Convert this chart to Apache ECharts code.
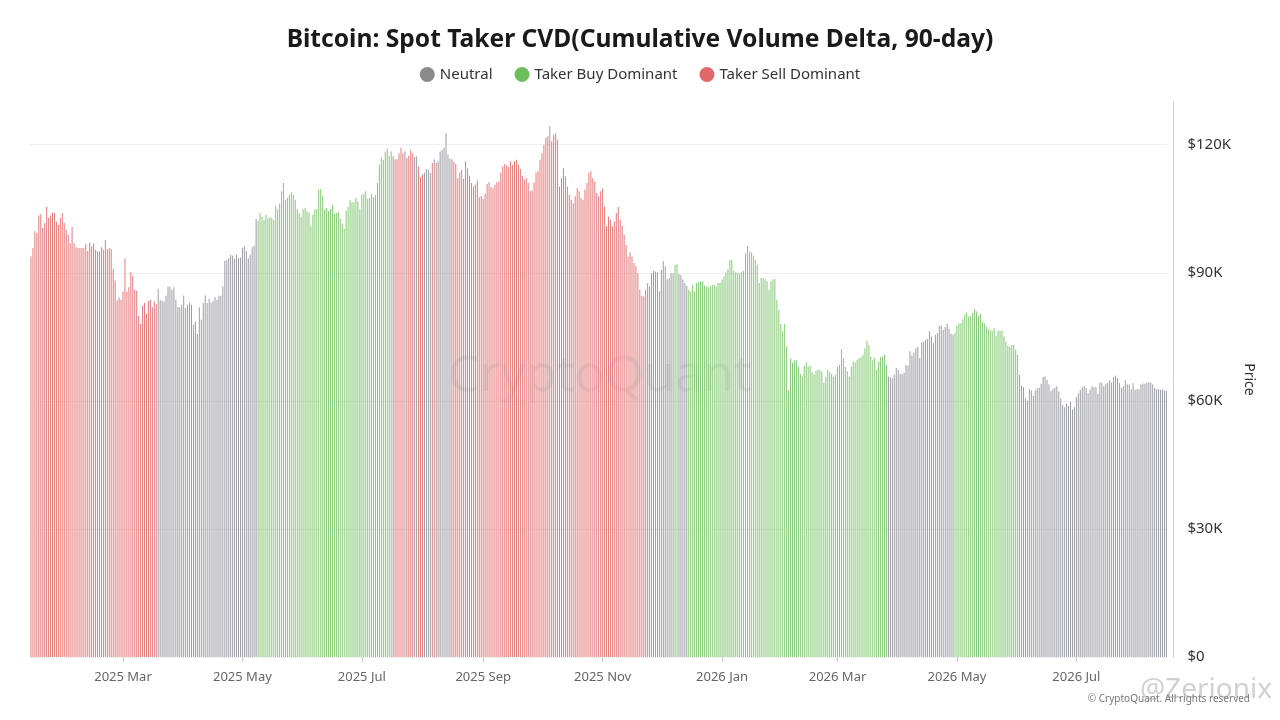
<!DOCTYPE html>
<html>
<head>
<meta charset="utf-8">
<title>Bitcoin: Spot Taker CVD</title>
<script src="https://cdn.jsdelivr.net/npm/echarts@6/dist/echarts.min.js"></script>
<style>
html,body{margin:0;padding:0;background:#fff;}
#chart{width:1280px;height:720px;}
</style>
</head>
<body>
<div id="chart"></div>
<script>
// daily BTC price in $K, one value per day starting at startDate
var startDate = [2025, 0, 13];

// Jan 13 - May 8 2025
var priceEarly2025 = [
    93.8, 95.8, 99.7, 99.3, 103.4, 103.7, 100.5, 101.6, 105.4, 102.8,
    103.4, 104.1, 104.0, 102.0, 101.2, 102.8, 104.0, 101.6, 100.1, 98.9,
    96.9, 100.7, 96.9, 96.0, 95.8, 95.8, 95.8, 95.8, 96.8, 95.1,
    97.1, 96.2, 96.9, 95.4, 95.0, 95.0, 96.0, 95.4, 97.7, 95.5,
    95.8, 95.5, 90.9, 88.2, 83.5, 84.2, 83.7, 85.6, 93.4, 85.6,
    86.6, 90.1, 89.3, 86.0, 85.8, 79.9, 78.0, 82.3, 82.9, 80.4,
    83.4, 83.7, 81.9, 83.3, 82.6,
    86.2, 83.7, 83.4, 83.3, 84.6, 86.8, 86.8, 86.0, 86.6, 83.7,
    81.9, 81.9, 82.5, 84.6, 81.7, 82.5, 83.0, 82.5, 77.8, 78.6,
    75.7, 81.9, 79.0, 82.9, 84.7, 82.9, 83.9, 83.0, 83.3, 84.3,
    83.7, 84.6, 84.6, 86.8, 92.8, 93.0, 93.4, 94.2, 94.0, 93.3,
    94.2, 93.4, 93.6, 95.8, 96.2, 95.1, 93.4, 94.2, 96.0, 96.3,
    102.6
];
// May 9 - Aug 15 2025
var priceMidYear = [
    102.2, 104.0, 103.2, 102.3, 103.6, 102.7, 103.0, 102.8, 102.3, 105.7,
    104.8, 106.2, 109.1, 111.0, 107.1, 107.5, 108.3, 108.8, 108.3, 107.1,
    104.9, 104.0, 103.2, 104.9, 105.2, 104.4, 104.0, 101.0, 103.6, 104.8,
    104.9, 109.5, 109.6, 108.0, 104.8, 105.2, 104.4, 104.9, 105.9, 103.8,
    104.0, 104.3, 102.6, 101.5, 100.3, 104.6, 105.4, 107.0, 106.5, 106.5,
    107.5, 106.7, 104.9, 108.3, 108.5, 109.1, 107.3, 107.5, 108.5, 107.7,
    108.3, 111.0, 115.3, 116.9, 116.5, 118.4, 119.1, 117.3, 118.4,
    117.3, 116.6, 116.6, 118.0, 119.2, 118.0, 118.4, 116.9, 117.4, 118.7,
    118.0, 117.1, 117.3, 114.9, 112.4, 113.0, 113.4, 114.3, 114.1, 113.4,
    115.7, 116.6, 115.7, 116.1, 118.4, 118.8, 119.2, 122.7, 117.7, 116.7
];
// Aug 16 - Nov 23 2025
var priceAutumn = [
    116.6, 116.0, 115.5, 112.2, 113.5, 114.1, 112.0, 116.1, 114.5, 112.7,
    111.0, 110.2, 110.6, 111.6, 107.7, 108.0, 107.3, 108.5, 110.8, 111.2,
    110.1, 109.8, 110.6, 111.2, 111.4, 113.4, 114.9, 115.5, 115.1, 114.8,
    116.1, 115.3, 116.1, 116.5, 115.3, 114.3, 112.7, 111.8, 112.2, 111.0,
    109.1, 109.3, 111.2, 113.5, 113.8, 116.5, 118.0, 120.0, 121.6, 122.0,
    124.3,
    120.8, 122.3, 122.7, 121.2, 110.2, 112.2, 114.5, 112.6, 110.2, 108.3,
    107.1, 106.3, 107.9, 109.8, 109.1, 107.5, 107.1, 109.5, 111.0, 113.4,
    113.8, 112.2, 111.4, 108.7, 107.9, 109.1, 109.8, 105.5, 100.9, 103.2,
    102.4, 100.9, 102.0, 104.0, 105.4, 102.4, 101.0, 98.9, 96.5, 93.8,
    94.8, 93.8, 92.3, 91.5, 89.9, 86.0, 84.6, 84.5, 86.0
];
// Nov 24 2025 - Mar 26 2026
var priceWinter = [
    87.6, 86.8, 89.9, 90.5, 90.3, 90.1, 85.6, 90.7, 92.7, 91.5,
    88.5, 88.8, 89.9, 89.9, 91.9, 92.0, 89.7, 89.5, 88.4, 87.6,
    86.9,
    86.0, 85.6, 87.2, 85.6, 87.6, 87.7, 88.0, 88.0, 87.0, 86.8,
    86.6, 86.8, 87.2, 87.2, 86.8, 87.6, 87.6, 88.4, 89.1, 90.1,
    90.9, 93.0, 93.0, 90.5, 90.1, 89.9, 89.8, 90.1, 90.5, 94.6,
    96.3, 95.0, 94.8, 94.0, 93.0, 91.9, 87.6, 88.8, 88.8, 88.5,
    88.0, 86.0, 88.0, 88.5, 88.5, 83.7, 81.3, 78.0, 76.3, 78.0,
    72.7, 62.4, 69.8, 69.0, 69.5, 69.5, 68.0, 66.3, 65.7, 68.2,
    69.0, 68.0, 68.2, 66.7, 66.1, 67.0, 67.3, 67.3, 66.9, 64.2, 65.7,
    67.3, 66.7, 66.3, 65.7, 66.1, 68.0, 68.4, 72.1, 70.0, 67.9,
    66.9, 65.7, 68.0, 69.2, 69.0, 69.6, 70.0, 70.2, 70.8, 72.3, 74.1,
    73.1, 70.4, 69.6, 70.0, 67.3, 69.2, 70.2, 70.4, 70.8, 68.4
];
// Mar 27 - Jun 1 2026
var priceSpring2026 = [
    65.7, 65.5, 65.3, 66.1, 67.7, 67.3, 66.3, 66.3, 66.6, 68.4,
    68.2, 71.6, 70.6, 71.3, 72.3, 72.6, 70.0, 73.7, 73.9, 74.3,
    74.5, 76.3, 75.1, 73.5, 75.5, 75.9, 77.6, 77.6, 76.6, 77.3,
    78.1, 76.8, 75.7, 75.5,
    75.9, 77.6, 78.1, 78.2, 79.1, 80.2, 80.7, 79.8, 79.8, 80.6,
    81.5, 80.9, 79.8, 80.4, 78.6, 78.2, 77.4, 76.8, 76.6, 76.3,
    77.0, 75.2, 76.5, 76.3, 76.5, 75.1, 73.9, 72.9, 72.7, 73.1,
    73.1, 72.0, 70.8
];
// Jun 2 - Aug 16 2026
var priceSummer2026 = [
    66.1, 63.5, 63.2, 60.6, 60.1, 62.7, 62.4, 61.2, 62.4, 63.0,
    63.0, 64.0, 65.6, 65.7, 64.9, 63.8, 62.3, 62.8, 63.0, 63.4,
    62.2, 60.6, 59.0, 58.5, 59.4, 58.8, 59.8, 58.0, 58.5, 60.9,
    61.8, 62.6, 63.2, 63.5, 63.0, 61.8, 62.6, 63.4, 63.2, 63.2,
    61.6, 64.3, 64.2, 63.4, 64.0, 64.2, 64.8, 64.3, 65.6, 65.9,
    65.3, 64.1, 63.0, 63.4, 64.8, 63.8, 63.8, 62.7, 64.1, 62.6,
    62.7, 62.7, 63.8, 64.0, 64.0, 64.3, 64.3, 64.3, 63.8, 63.0,
    62.7, 62.7, 62.6, 62.7, 62.4, 62.3
];

// taker regime, as consecutive runs of days
var runKind = ['sell','neutral','buy','neutral','sell','neutral','sell','neutral','sell','neutral',
               'sell','neutral','sell','neutral','sell','neutral','sell','neutral','buy','neutral',
               'buy','neutral','buy','neutral'];
var runLength = [65, 51, 69, 1, 5, 1, 4, 2, 3, 4,
                 1, 1, 1, 7, 50, 1, 49, 14, 2, 5,
                 102, 34, 33, 76];

var yTicks = [0, 30, 60, 90, 120];
var monthNames = ['Jan','Feb','Mar','Apr','May','Jun','Jul','Aug','Sep','Oct','Nov','Dec'];

var prices = [].concat(priceEarly2025, priceMidYear, priceAutumn, priceWinter, priceSpring2026, priceSummer2026);

var regime = [];
for (var r = 0; r < runKind.length; r++) {
    for (var k = 0; k < runLength[r]; k++) regime.push(runKind[r]);
}

var days = [];
var t0 = Date.UTC(startDate[0], startDate[1], startDate[2]);
for (var i = 0; i < prices.length; i++) {
    days.push(new Date(t0 + i * 86400000).toISOString().slice(0, 10));
}

function isLabelDay(idx, val) {
    var p = val.split('-');
    return p[2] === '01' && (+p[1]) % 2 === 1;
}

function seriesFor(kind) {
    return prices.map(function (v, i) { return regime[i] === kind ? v : '-'; });
}

var font = 'Noto Sans';
var chart = echarts.init(document.getElementById('chart'));

var option = {
    backgroundColor: '#fff',
    animation: false,
    textStyle: { fontFamily: font },
    title: {
        text: 'Bitcoin: Spot Taker CVD(Cumulative Volume Delta, 90-day)',
        left: 'center',
        top: 22,
        textStyle: { fontSize: 24.6, fontWeight: 'bold', color: '#1a1a1a', fontFamily: font }
    },
    legend: {
        top: 62,
        left: 'center',
        icon: 'circle',
        itemWidth: 15,
        itemHeight: 15,
        itemGap: 22,
        textStyle: { fontSize: 15, color: '#333', fontFamily: font },
        data: [
            { name: 'Neutral', itemStyle: { color: '#8a8a8a' } },
            { name: 'Taker Buy Dominant', itemStyle: { color: '#6cc05c' } },
            { name: 'Taker Sell Dominant', itemStyle: { color: '#e06868' } }
        ]
    },
    grid: { left: 30, right: 112.6, top: 102, bottom: 63 },
    xAxis: {
        type: 'category',
        data: days,
        axisLine: { show: false },
        axisTick: { show: true, alignWithLabel: true, interval: isLabelDay, length: 5, lineStyle: { color: '#ccc' } },
        axisLabel: {
            interval: isLabelDay,
            margin: 14,
            fontSize: 13,
            color: '#666',
            formatter: function (val) {
                var p = val.split('-');
                return p[0] + ' ' + monthNames[+p[1] - 1];
            }
        }
    },
    yAxis: {
        type: 'value',
        position: 'right',
        offset: 6,
        min: yTicks[0],
        max: 130,
        interval: yTicks[1] - yTicks[0],
        name: 'Price',
        nameLocation: 'middle',
        nameRotate: -90,
        nameGap: 66,
        nameTextStyle: { fontSize: 14, color: '#333' },
        axisLine: { show: true, lineStyle: { color: '#ccc' } },
        axisTick: { show: false },
        axisLabel: {
            margin: 14,
            fontSize: 15,
            color: '#333',
            showMaxLabel: false,
            formatter: function (v) { return v === 0 ? '$0' : '$' + v + 'K'; }
        },
        splitLine: { lineStyle: { color: ['#f0f0f0', '#f0f0f0', '#f0f0f0', '#f0f0f0', '#f0f0f0', 'rgba(0,0,0,0)'] } }
    },
    series: [
        { name: 'Neutral', type: 'bar', data: seriesFor('neutral'), barWidth: '45%', barGap: '-100%', itemStyle: { color: '#9d9da6' } },
        { name: 'Taker Buy Dominant', type: 'bar', data: seriesFor('buy'), barWidth: '45%', barGap: '-100%', itemStyle: { color: '#86c976' } },
        { name: 'Taker Sell Dominant', type: 'bar', data: seriesFor('sell'), barWidth: '45%', barGap: '-100%', itemStyle: { color: '#e77b7b' } }
    ],
    graphic: [
        { type: 'text', left: 448, top: 352, z: 100, silent: true,
          style: { text: 'CryptoQuant', fontSize: 50, fontFamily: font, fill: 'rgba(120,120,120,0.12)' } },
        { type: 'text', right: 30, top: 694, z: 100, silent: true,
          style: { text: '\u00a9 CryptoQuant. All rights reserved', fontSize: 10, fontFamily: font, fill: '#777' } },
        { type: 'text', right: 8, top: 676, z: 101, silent: true,
          style: { text: '@Zerionix', fontSize: 28, fontFamily: font, fill: 'rgba(150,150,150,0.45)' } }
    ]
};
chart.setOption(option);
</script>
</body>
</html>
